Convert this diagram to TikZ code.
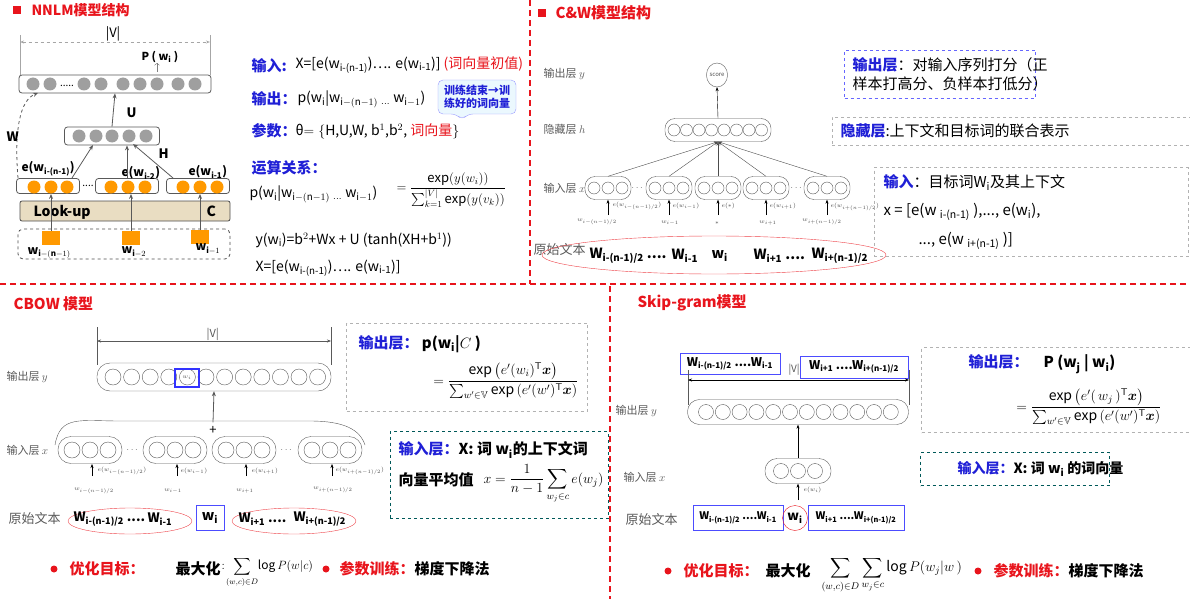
\RequirePackage{fix-cm}
\documentclass[tikz,border=0pt]{standalone}
\usepackage{amsmath,amssymb}
\usepackage{fontspec}
\setmainfont{Noto Sans CJK SC}
\newfontfamily\cjk{Noto Sans CJK SC}
\usetikzlibrary{arrows.meta,shapes.geometric}
\definecolor{tred}{HTML}{E8141C}
\definecolor{lblue}{HTML}{1F1FD6}
\definecolor{tan}{HTML}{E9DDC2}
\definecolor{orng}{HTML}{FF9900}
\tikzset{
 fs/.style={font=\fontsize{#1}{#1}\selectfont},
 ttl/.style={anchor=west,text=tred,font=\fontsize{14}{14}\selectfont\bfseries},
 lab/.style={anchor=west,text=lblue,font=\fontsize{15}{15}\selectfont\bfseries},
 txt/.style={anchor=west,font=\fontsize{#1}{#1}\selectfont},
 txt/.default=14,
 mth/.style={font=\fontsize{#1}{#1}\selectfont},
 gl/.style={anchor=west,text=gray!70!black,font=\fontsize{11}{11}\selectfont},
 gc/.style={circle,fill=gray!75,inner sep=0,minimum size=13},
 oc/.style={circle,fill=orng,inner sep=0,minimum size=13},
 wc/.style={circle,draw=gray!70!black,inner sep=0,minimum size=#1},
 wc/.default=12,
 gbox/.style={draw=gray!70!black,rounded corners=3,minimum height=18,inner sep=0,thick},
 pill/.style={draw=gray!70!black,rounded corners=10,inner sep=0},
 arr/.style={-{Stealth[length=5pt,width=4pt]},gray!70!black,thick},
 tarr/.style={-{Stealth[length=4pt,width=3pt]},black},
 div/.style={tred,line width=1.2pt,dash pattern=on 6pt off 4pt},
 dbox/.style={draw=gray!60,dashed,inner sep=0},
 bw/.style={anchor=west,font=\fontsize{#1}{#1}\selectfont\bfseries},
 bw/.default=13,
 bc/.style={font=\fontsize{#1}{#1}\selectfont\bfseries},
 tiny/.style={text=gray!60!black,font=\fontsize{6}{6}\selectfont},
}
\begin{document}
\begin{tikzpicture}[x=1pt,y=-1pt]
\useasboundingbox (0,0) rectangle (1190,599);
% dividers
\draw[div] (530,0) -- (530,284);
\draw[div] (0,284) -- (1190,284);
\draw[div] (610,286) -- (610,599);

%================ NNLM
\fill[tred] (13,6) rectangle (21,14);
\node[ttl] (t1) at (28,10) {NNLM模型结构};
\draw[gray!70] (20,35) -- (20,75) (210,35) -- (210,75);
\draw[gray!70,dashed,{Stealth[length=4pt,open]}-{Stealth[length=4pt,open]}] (20,42) -- (210,42);
\node[fs=13] (vv) at (113,34) {|V|};
\node[bw=11] (pw) at (138,57) {P ( w$_\text{i}$ )};
\node[gbox,minimum width=192,minimum height=18] (top) at (115,84) {};
\foreach \x in {33,50,84,101,123,140,157,178,195} \node[gc] at (\x,84) {};
\node[fs=10] at (67,86) {.....};
\draw[->,gray] (157,72) -- (157,63);
\node[gbox,minimum width=95,minimum height=18] (mid) at (112,136) {};
\foreach \x in {79,96,112,129,146} \node[gc] at (\x,136) {};
\draw[arr] (mid.north) -- (top.south);
\node[bw] (U) at (123,113) {U};
\node[gbox,minimum width=63,minimum height=15] (lb1) at (48,186) {};
\node[gbox,minimum width=63,minimum height=15] (lb2) at (127,186) {};
\node[gbox,minimum width=63,minimum height=15] (lb3) at (198,186) {};
\foreach \x in {34,51,67,111,128,145,183,200,217} \node[oc] at (\x,187) {};
\node[fs=10] at (88,186) {....};
\node[bw=12] at (18,169) {e(w$_{\text{i-(n-1)}}$)};
\node[bw=12] at (118,173) {e(w$_\text{i-2}$)};
\node[bw=12] at (185,172) {e(w$_\text{i-1}$)};
\coordinate (m1) at (93,145); \coordinate (m3) at (133,144);
\draw[arr] (72,178) -- (m1);
\draw[arr] (lb2.north) -- (lb2.north |- mid.south);
\draw[arr] (173,178) -- (m3);
\node[bw] at (155,154) {H};
\coordinate (wend) at (38,93);
\draw[arr,dashed] (18,178) .. controls (14,130) and (20,100) .. (wend);
\node[bw] at (3,137) {W};
\node[draw=black!70,thick,fill=tan,rounded corners=2,minimum width=210,minimum height=20,inner sep=0] (lu) at (125,211) {};
\node[bw=14] at (30,212) {Look-up};
\node[bw=14] at (203,211) {C};
\node[draw=black!70,thick,dashed,rounded corners=5,minimum width=212,minimum height=30,inner sep=0] (inb) at (124,244) {};
\node[fill=orng,minimum width=18,minimum height=14,inner sep=0] (s1) at (51,238) {};
\node[fill=orng,minimum width=18,minimum height=14,inner sep=0] (s2) at (131,238) {};
\node[fill=orng,minimum width=18,minimum height=14,inner sep=0] (s3) at (200,237) {};
\draw[arr] (s1.north) -- (s1.north |- lb1.south);
\draw[arr] (s2.north) -- (s2.north |- lb2.south);
\draw[arr] (s3.north) -- (s3.north |- lb3.south);
\node[bw=12] at (24,253) {w$_{\text{i}-(\text{n}-1)}$};
\node[bw=12] at (118,252) {w$_{\text{i}-2}$};
\node[bw=12] at (192,249) {w$_{\text{i}-1}$};
% NNLM text
\node[lab] (in1) at (248,66) {输入:};
\node[txt] at (292,65) {X=[e(w$_{\text{i-(n-1)}}$)…. e(w$_{\text{i-1}}$)]};
\node[txt,text=tred] at (440,64) {(词向量初值)};
\node[lab] (out1) at (248,99) {输出：};
\node[txt] at (294,99) {p(w$_\text{i}$|w$_{\text{i}-(\text{n}-1)}$ $_{\ldots}$ w$_{\text{i}-1}$)};
\draw[fill=cyan!8,draw=blue!40,rounded corners=5] (438,80) -- (516,80) -- (516,114) -- (468,114) -- (462,120) -- (456,114) -- (438,114) -- cycle;
\node[align=left,text=lblue,font=\fontsize{11}{13}\selectfont\bfseries] (cb) at (477,97) {训练结束→训\\练好的词向量};
\node[lab] (par) at (248,131) {参数：};
\node[txt] at (292,131) {θ$=\{$H,U,W, b$^1$,b$^2$, \textcolor{tred}{词向量}$\}$};
\node[lab] (op) at (248,168) {运算关系：};
\node[txt] at (246,194) {p(w$_\text{i}$|w$_{\text{i}-(\text{n}-1)}$ $_{\ldots}$ w$_{\text{i}-1}$)};
\node[anchor=west,mth=13] at (393,190) {$=\dfrac{\exp(y(w_i))}{\sum_{k=1}^{|V|}\exp(y(v_k))}$};
\node[txt] at (252,240) {y(w$_\text{i}$)=b$^2$+Wx + U (tanh(XH+b$^1$))};
\node[txt] at (252,268) {X=[e(w$_{\text{i-(n-1)}}$)…. e(w$_{\text{i-1}}$)]};

%================ C&W
\fill[tred] (538,9) rectangle (546,17);
\node[ttl,font=\fontsize{15}{15}\selectfont\bfseries] (t2) at (552,13) {C\&W模型结构};
\node[gl] at (540,74) {输出层 $y$};
\node[gl] at (540,129) {隐藏层 $h$};
\node[gl] at (540,188) {输入层 $x$};
\node[gl,fs=13] at (530,250) {原始文本};
\node[ellipse,draw=gray!70!black,minimum width=16,minimum height=24,inner sep=0,tiny] (score) at (717,75) {score};
\node[pill,minimum width=106,minimum height=23] (hid) at (718,130) {};
\foreach \i in {0,...,7} \node[wc] at (674+\i*12.5,130) {};
\draw[tarr] (hid.north) -- (score.south);
\foreach \cx/\n in {608/1,669/2,718/3,766/4,827/5}{
 \node[pill,minimum width=46,minimum height=23] (cw\n) at (\cx,188) {};
 \foreach \d in {-14,0,14} \node[wc] at (\cx+\d,188) {};
 \draw[tarr,gray!60!black] (cw\n.north) -- (hid.south);
 \draw[tarr] (\cx,215) -- (cw\n.south);
}
\node[gray] at (638,188) {$\cdots$};
\node[gray] at (797,188) {$\cdots$};
\node[tiny,anchor=west] at (609,206) {$e(w_{i-(n-1)/2})$};
\node[tiny,anchor=west] at (669,206) {$e(w_{i-1})$};
\node[tiny,anchor=west] at (718,206) {$e(*)$};
\node[tiny,anchor=west] at (766,206) {$e(w_{i+1})$};
\node[tiny,anchor=west] at (827,207) {$e(w_{i+(n-1)/2})$};
\node[tiny] at (597,222) {$w_{i-(n-1)/2}$};
\node[tiny] at (670,223) {$w_{i-1}$};
\node[tiny] at (717,223) {$*$};
\node[tiny] at (768,223) {$w_{i+1}$};
\node[tiny] at (822,222) {$w_{i+(n-1)/2}$};
\node[ellipse,draw=tred!80,minimum width=344,minimum height=38,inner sep=0] (ce) at (714,255) {};
\node[bw=14] at (586,256) {W$_{\text{i-(n-1)/2}}$ ....};
\node[bw=14] at (668,256) {W$_\text{i-1}$};
\node[bw=14] at (708,256) {w$_\text{i}$};
\node[bw=14] at (750,256) {W$_\text{i+1}$ ....};
\node[bw=14] at (808,256) {W$_{\text{i+(n-1)/2}}$};
\node[draw=blue!60,dashed,minimum width=191,minimum height=48,inner sep=0] (cb1) at (940,74) {};
\node[anchor=west,align=left,font=\fontsize{15}{19}\selectfont] at (849,74) {\textcolor{lblue}{\bfseries 输出层}：对输入序列打分（正\\样本打高分、负样本打低分）};
\node[dbox,minimum width=358,minimum height=28] (cb2) at (1011,131) {};
\node[anchor=west,font=\fontsize{15}{15}\selectfont] at (837,131) {\textcolor{lblue}{\bfseries 隐藏层}:上下文和目标词的联合表示};
\node[dbox,minimum width=314,minimum height=89] (cb3) at (1031,212) {};
\node[anchor=west,font=\fontsize{15}{15}\selectfont] at (880,183) {\textcolor{lblue}{\bfseries 输入}：目标词W$_\text{i}$及其上下文};
\node[anchor=west,font=\fontsize{15}{15}\selectfont] at (880,212) {x = [e(w $_{\text{i-(n-1)}}$ ),..., e(w$_\text{i}$),};
\node[anchor=west,font=\fontsize{15}{15}\selectfont] at (915,241) {..., e(w $_{\text{i+(n-1)}}$ )]};

%================ CBOW
\node[ttl,font=\fontsize{15}{15}\selectfont\bfseries] (t3) at (10,304) {CBOW 模型};
\draw[gray!70!black] (97,327) -- (97,365) (331,327) -- (331,365);
\draw[gray!70!black,{Stealth[length=4pt]}-{Stealth[length=4pt]}] (97,341) -- (331,341);
\node[gl] at (203,334) {|V|};
\node[pill,minimum width=234,minimum height=28,rounded corners=13] (co) at (214,377) {};
\foreach \i in {0,...,11} \node[wc=16] at (113+\i*18.6,377) {};
\node[draw=blue!80!white,line width=1.5pt,minimum width=24,minimum height=18,inner sep=0,tiny] (cwi) at (187,378) {$w_i$};
\node[gl] at (3,377) {输出层 $y$};
\node[gl] at (3,450) {输入层 $x$};
\node[gl,fs=13] at (5,519) {原始文本};
\node[fs=13] (plus) at (213,430) {+};
\draw[arr] (plus.north) -- (co.south);
\draw[gray!70!black] (55,445) .. controls (60,415) and (80,421) .. (120,421) -- (310,421) .. controls (345,421) and (360,430) .. (365,445);
\foreach \cx/\n in {90/1,175/2,244/3,330/4}{
 \node[pill,minimum width=64,minimum height=27,rounded corners=13] (cg\n) at (\cx,450) {};
 \foreach \d in {-18,0,18} \node[wc=16] at (\cx+\d,450) {};
 \draw[tarr] (\cx+2,476) -- (\cx+2,464);
}
\node[gray] at (133,450) {$\cdots$};
\node[gray] at (287,450) {$\cdots$};
\node[tiny,anchor=west] at (94,471) {$e(w_{i-(n-1)/2})$};
\node[tiny,anchor=west] at (177,471) {$e(w_{i-1})$};
\node[tiny,anchor=west] at (248,471) {$e(w_{i+1})$};
\node[tiny,anchor=west] at (332,471) {$e(w_{i+(n-1)/2})$};
\node[tiny] at (94,491) {$w_{i-(n-1)/2}$};
\node[tiny] at (173,491) {$w_{i-1}$};
\node[tiny] at (245,491) {$w_{i+1}$};
\node[tiny] at (333,490) {$w_{i+(n-1)/2}$};
\node[ellipse,draw=tred!80,minimum width=124,minimum height=26,inner sep=0] (ce1) at (130,521) {};
\node[draw=blue!70,minimum width=28,minimum height=25,inner sep=0,bc=14] (cbw) at (210,518) {w$_\text{i}$};
\node[ellipse,draw=tred!80,minimum width=124,minimum height=26,inner sep=0] (ce2) at (294,521) {};
\node[bw=13] at (70,519) {W$_{\text{i-(n-1)/2}}$ ....};
\node[bw=13] at (144,519) {W$_\text{i-1}$};
\node[bw=13] at (235,519) {W$_\text{i+1}$ ....};
\node[bw=13] at (290,519) {W$_{\text{i+(n-1)/2}}$};
\node[dbox,minimum width=241,minimum height=88] (cob) at (467,367) {};
\node[anchor=west,font=\fontsize{15}{15}\selectfont] at (355,344) {\textcolor{lblue}{\bfseries 输出层：} \bfseries p(w$_\text{i}$|$C$ )};
\node[anchor=east,mth=14] at (582,381) {$=\dfrac{\exp\left(e'(w_i)^{\mathsf T}\boldsymbol{x}\right)}{\sum_{w'\in\mathbb V}\exp\left(e'(w')^{\mathsf T}\boldsymbol{x}\right)}$};
\node[draw=teal!70!black,dashed,minimum width=218,minimum height=87,inner sep=0] (cib) at (499,475) {};
\node[anchor=west,bc=15] at (395,450) {\textcolor{lblue}{输入层：}X: 词 w$_\text{i}$的上下文词};
\node[anchor=west,bc=15] at (395,480) {向量平均值};
\node[anchor=west,mth=14] at (480,484) {$x=\dfrac{1}{n-1}\displaystyle\sum_{w_j\in c}e(w_j)$};
\fill[tred] (54,569) circle (3.5);
\node[anchor=west,text=tred,bc=15] at (66,569) {优化目标：};
\node[anchor=west,bc=15] at (172,569) {最大化};
\node[anchor=west,mth=12] at (218,572) {$:\!\displaystyle\sum_{(w,c)\in D}\!\log P(w|c)$};
\fill[tred] (326,569) circle (3.5);
\node[anchor=west,bc=15] at (336,569) {\textcolor{tred}{参数训练：}梯度下降法};

%================ Skip-gram
\node[ttl,font=\fontsize{15}{15}\selectfont\bfseries] (t4) at (634,303) {Skip-gram模型};
\node[draw=blue!70,thick,minimum width=100,minimum height=21,inner sep=0] (sg1) at (730,364) {};
\node[bc=12] at (730,364) {W$_{\text{i-(n-1)/2}}$ ....W$_\text{i-1}$};
\node[draw=blue!70,thick,minimum width=108,minimum height=22,inner sep=0] (sg2) at (854,367) {};
\node[bc=12] at (854,367) {W$_\text{i+1}$ ....W$_{\text{i+(n-1)/2}}$};
\node[gl,fs=10] at (785,370) {|V|};
\draw[gray!70!black] (688,370) -- (688,405) (909,370) -- (909,405);
\draw[black,{Stealth[length=4pt]}-{Stealth[length=4pt]}] (688,380) -- (909,380);
\node[pill,minimum width=221,minimum height=25,rounded corners=12] (so) at (798,412) {};
\foreach \i in {0,...,11} \node[wc=15] at (706+\i*16.8,412) {};
\node[gl] at (612,411) {输出层 $y$};
\node[pill,minimum width=66,minimum height=25,rounded corners=12] (si) at (798,471) {};
\foreach \d in {-17,0,17} \node[wc=15] at (798+\d,471) {};
\draw[tarr] (si.north) -- (so.south);
\node[gl] at (620,477) {输入层 $x$};
\coordinate (sbot) at (798,500);
\draw[tarr] (sbot) -- (si.south);
\node[tiny,anchor=west] at (800,490) {$e(w_i)$};
\node[gl,fs=13] at (622,520) {原始文本};
\node[draw=blue!70,thick,minimum width=90,minimum height=25,inner sep=0] (sb1) at (738,518) {};
\node[bc=10.5] at (738,518) {W$_{\text{i-(n-1)/2}}$ ....W$_\text{i-1}$};
\node[circle,draw=tred,minimum size=25,inner sep=0,bc=13] (sc) at (795,518) {w$_\text{i}$};
\node[draw=blue!70,thick,minimum width=96,minimum height=25,inner sep=0] (sb2) at (856,518) {};
\node[bc=10.5] at (856,518) {W$_\text{i+1}$ ....W$_{\text{i+(n-1)/2}}$};
\node[dbox,minimum width=269,minimum height=85] (sob) at (1056,390) {};
\node[anchor=west,bc=15] at (965,364) {\textcolor{lblue}{输出层：}\quad P (w$_\text{j}$ | w$_\text{i}$)};
\node[anchor=east,mth=14] at (1165,407) {$=\dfrac{\exp\left(e'(\,w_j\,)^{\mathsf T}\boldsymbol{x}\right)}{\sum_{w'\in\mathbb V}\exp\left(e'(w')^{\mathsf T}\boldsymbol{x}\right)}$};
\node[draw=teal!70!black,dashed,minimum width=189,minimum height=33,inner sep=0] (sib) at (1015,469) {};
\node[anchor=west,bc=14] at (954,469) {\textcolor{lblue}{输入层：}X: 词 w$_\text{i}$ 的词向量};
\fill[tred] (668,571) circle (3.5);
\node[anchor=west,text=tred,bc=15] at (680,571) {优化目标：};
\node[anchor=west,bc=15] at (762,571) {最大化};
\node[anchor=west,mth=14] at (818,575) {$\displaystyle\sum_{(w,c)\in D}\sum_{w_j\in c}\log P(w_j|w\,)$};
\fill[tred] (978,571) circle (3.5);
\node[anchor=west,bc=15] at (990,571) {\textcolor{tred}{参数训练：}梯度下降法};
\end{tikzpicture}
\end{document}
